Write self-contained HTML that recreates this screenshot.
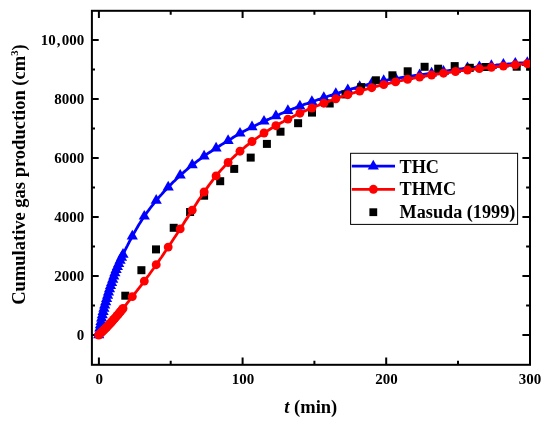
<!DOCTYPE html>
<html><head><meta charset="utf-8"><title>Cumulative gas production</title>
<style>
html,body{margin:0;padding:0;background:#fff;}
body{width:550px;height:422px;overflow:hidden;}
svg{display:block;}
text{font-family:"Liberation Serif","Times New Roman",serif;font-weight:bold;fill:#000;}
</style></head><body>
<svg width="550" height="422" viewBox="0 0 550 422">
<rect width="550" height="422" fill="#fff"/>
<defs><clipPath id="c"><rect x="91.9" y="10.8" width="438.1" height="354.0"/></clipPath></defs>

<g stroke="#000" stroke-width="2.0" fill="none" stroke-linecap="butt">
<rect x="91.9" y="10.8" width="438.1" height="354.0"/>
<path d="M91.9,335.1h6.8M530.0,335.1h-7.6"/>
<path d="M91.9,305.6h3.0999999999999996M530.0,305.6h-3.9"/>
<path d="M91.9,276.1h6.8M530.0,276.1h-7.6"/>
<path d="M91.9,246.6h3.0999999999999996M530.0,246.6h-3.9"/>
<path d="M91.9,217.1h6.8M530.0,217.1h-7.6"/>
<path d="M91.9,187.6h3.0999999999999996M530.0,187.6h-3.9"/>
<path d="M91.9,158.1h6.8M530.0,158.1h-7.6"/>
<path d="M91.9,128.6h3.0999999999999996M530.0,128.6h-3.9"/>
<path d="M91.9,99.1h6.8M530.0,99.1h-7.6"/>
<path d="M91.9,69.6h3.0999999999999996M530.0,69.6h-3.9"/>
<path d="M91.9,40.1h6.8M530.0,40.1h-7.6"/>
<path d="M98.9,364.8v-7.2M98.9,10.8v7.2"/>
<path d="M170.7,364.8v-4.0M170.7,10.8v4.0"/>
<path d="M242.6,364.8v-7.2M242.6,10.8v7.2"/>
<path d="M314.4,364.8v-4.0M314.4,10.8v4.0"/>
<path d="M386.2,364.8v-7.2M386.2,10.8v7.2"/>
<path d="M458.0,364.8v-4.0M458.0,10.8v4.0"/>
</g>
<g clip-path="url(#c)">
<path d="M98.7,335.0 L100.1,326.5 L101.6,318.7 L103.0,312.0 L104.4,306.3 L105.9,301.3 L107.3,296.5 L108.7,291.7 L110.2,287.0 L111.6,282.6 L113.0,278.4 L114.5,274.3 L115.9,270.5 L117.3,266.9 L118.8,263.6 L120.2,260.3 L121.6,257.3 L123.1,254.4 L124.5,251.4 L125.9,248.5 L127.4,245.7 L128.8,242.9 L130.2,240.2 L131.7,237.5 L133.1,234.8 L134.5,232.2 L136.0,229.6 L137.4,227.2 L138.8,224.8 L140.3,222.5 L141.7,220.3 L143.1,218.1 L144.6,215.9 L146.0,213.9 L147.4,211.8 L148.9,209.9 L150.3,208.0 L151.7,206.1 L153.2,204.3 L154.6,202.5 L156.0,200.7 L157.5,199.0 L158.9,197.3 L160.3,195.7 L161.8,194.1 L163.2,192.5 L164.6,190.9 L166.1,189.4 L167.5,187.9 L168.9,186.4 L170.4,184.9 L171.8,183.5 L173.2,182.1 L174.7,180.7 L176.1,179.3 L177.5,177.9 L179.0,176.5 L180.4,175.2 L181.8,173.9 L183.3,172.7 L184.7,171.4 L186.1,170.2 L187.6,168.9 L189.0,167.7 L190.4,166.5 L191.9,165.3 L193.3,164.2 L194.7,163.1 L196.2,162.0 L197.6,160.9 L199.0,159.8 L200.5,158.8 L201.9,157.7 L203.3,156.7 L204.8,155.7 L206.2,154.7 L207.6,153.7 L209.0,152.7 L210.5,151.8 L211.9,150.8 L213.3,149.9 L214.8,149.0 L216.2,148.0 L217.6,147.1 L219.1,146.2 L220.5,145.3 L221.9,144.4 L223.4,143.5 L224.8,142.6 L226.2,141.8 L227.7,140.9 L229.1,140.0 L230.5,139.1 L232.0,138.2 L233.4,137.3 L234.8,136.4 L236.3,135.6 L237.7,134.7 L239.1,133.9 L240.6,133.0 L242.0,132.3 L243.4,131.5 L244.9,130.7 L246.3,130.0 L247.7,129.2 L249.2,128.5 L250.6,127.8 L252.0,127.1 L253.5,126.4 L254.9,125.7 L256.3,125.0 L257.8,124.3 L259.2,123.6 L260.6,122.9 L262.1,122.3 L263.5,121.6 L264.9,121.0 L266.4,120.3 L267.8,119.6 L269.2,119.0 L270.7,118.3 L272.1,117.7 L273.5,117.0 L275.0,116.4 L276.4,115.8 L277.8,115.1 L279.3,114.5 L280.7,113.8 L282.1,113.2 L283.6,112.6 L285.0,112.0 L286.4,111.4 L287.9,110.7 L289.3,110.2 L290.7,109.6 L292.2,109.1 L293.6,108.5 L295.0,108.0 L296.5,107.4 L297.9,106.9 L299.3,106.3 L300.8,105.8 L302.2,105.3 L303.6,104.7 L305.1,104.2 L306.5,103.7 L307.9,103.2 L309.4,102.7 L310.8,102.1 L312.2,101.6 L313.7,101.1 L315.1,100.7 L316.5,100.2 L318.0,99.7 L319.4,99.2 L320.8,98.7 L322.3,98.3 L323.7,97.8 L325.1,97.3 L326.6,96.8 L328.0,96.3 L329.4,95.8 L330.9,95.3 L332.3,94.9 L333.7,94.4 L335.2,93.9 L336.6,93.5 L338.0,93.0 L339.5,92.6 L340.9,92.1 L342.3,91.7 L343.8,91.3 L345.2,90.8 L346.6,90.4 L348.1,90.0 L349.5,89.6 L350.9,89.2 L352.4,88.7 L353.8,88.3 L355.2,87.9 L356.7,87.5 L358.1,87.2 L359.5,86.8 L361.0,86.4 L362.4,86.0 L363.8,85.6 L365.3,85.2 L366.7,84.8 L368.1,84.4 L369.6,84.0 L371.0,83.7 L372.4,83.3 L373.9,82.9 L375.3,82.6 L376.7,82.3 L378.2,81.9 L379.6,81.6 L381.0,81.3 L382.5,80.9 L383.9,80.6 L385.3,80.4 L386.8,80.1 L388.2,79.8 L389.6,79.6 L391.1,79.3 L392.5,79.0 L393.9,78.8 L395.4,78.5 L396.8,78.3 L398.2,78.1 L399.7,77.9 L401.1,77.6 L402.5,77.4 L404.0,77.2 L405.4,77.0 L406.8,76.8 L408.3,76.6 L409.7,76.3 L411.1,76.1 L412.6,75.9 L414.0,75.7 L415.4,75.5 L416.9,75.3 L418.3,75.1 L419.7,74.9 L421.1,74.7 L422.6,74.5 L424.0,74.3 L425.4,74.1 L426.9,73.9 L428.3,73.7 L429.7,73.5 L431.2,73.3 L432.6,73.1 L434.0,72.9 L435.5,72.6 L436.9,72.4 L438.3,72.2 L439.8,72.0 L441.2,71.8 L442.6,71.6 L444.1,71.4 L445.5,71.2 L446.9,70.9 L448.4,70.7 L449.8,70.5 L451.2,70.3 L452.7,70.1 L454.1,69.9 L455.5,69.7 L457.0,69.5 L458.4,69.2 L459.8,69.0 L461.3,68.8 L462.7,68.6 L464.1,68.4 L465.6,68.2 L467.0,68.1 L468.4,67.9 L469.9,67.8 L471.3,67.6 L472.7,67.5 L474.2,67.4 L475.6,67.2 L477.0,67.1 L478.5,67.0 L479.9,66.8 L481.3,66.7 L482.8,66.5 L484.2,66.4 L485.6,66.2 L487.1,66.1 L488.5,65.9 L489.9,65.8 L491.4,65.6 L492.8,65.5 L494.2,65.3 L495.7,65.2 L497.1,65.0 L498.5,64.9 L500.0,64.7 L501.4,64.6 L502.8,64.5 L504.3,64.3 L505.7,64.2 L507.1,64.1 L508.6,63.9 L510.0,63.8 L511.4,63.7 L512.9,63.6 L514.3,63.5 L515.7,63.3 L517.2,63.2 L518.6,63.1 L520.0,63.0 L521.5,63.0 L522.9,62.9 L524.3,62.8 L525.8,62.7 L527.2,62.6" fill="none" stroke="#0000ff" stroke-width="2.8" stroke-linejoin="round"/>
<g fill="#0000ff">
<path d="M98.7,328.5 L104.3,338.2 L93.1,338.2Z"/>
<path d="M99.2,325.2 L104.8,334.9 L93.6,334.9Z"/>
<path d="M99.8,321.9 L105.4,331.6 L94.2,331.6Z"/>
<path d="M100.4,318.5 L106.0,328.2 L94.8,328.2Z"/>
<path d="M101.0,315.2 L106.6,324.9 L95.4,324.9Z"/>
<path d="M101.6,311.9 L107.2,321.6 L96.0,321.6Z"/>
<path d="M102.3,308.6 L107.9,318.3 L96.7,318.3Z"/>
<path d="M103.1,305.3 L108.7,315.0 L97.5,315.0Z"/>
<path d="M103.9,302.0 L109.5,311.7 L98.3,311.7Z"/>
<path d="M104.7,298.8 L110.3,308.5 L99.1,308.5Z"/>
<path d="M105.7,295.5 L111.3,305.2 L100.1,305.2Z"/>
<path d="M106.6,292.3 L112.2,302.0 L101.0,302.0Z"/>
<path d="M107.6,289.0 L113.2,298.7 L102.0,298.7Z"/>
<path d="M108.5,285.8 L114.1,295.5 L102.9,295.5Z"/>
<path d="M109.5,282.6 L115.1,292.3 L103.9,292.3Z"/>
<path d="M110.5,279.4 L116.1,289.1 L104.9,289.1Z"/>
<path d="M111.6,276.2 L117.2,285.9 L106.0,285.9Z"/>
<path d="M112.7,273.0 L118.3,282.7 L107.1,282.7Z"/>
<path d="M113.8,269.8 L119.4,279.5 L108.2,279.5Z"/>
<path d="M114.9,266.6 L120.5,276.3 L109.3,276.3Z"/>
<path d="M116.1,263.4 L121.7,273.1 L110.5,273.1Z"/>
<path d="M117.4,260.3 L123.0,270.0 L111.8,270.0Z"/>
<path d="M118.7,257.2 L124.3,266.9 L113.1,266.9Z"/>
<path d="M120.1,254.1 L125.7,263.8 L114.5,263.8Z"/>
<path d="M121.5,251.1 L127.1,260.8 L115.9,260.8Z"/>
<path d="M123.0,248.0 L128.6,257.7 L117.4,257.7Z"/>
<path d="M132.3,229.8 L137.9,239.5 L126.7,239.5Z"/>
<path d="M144.3,209.9 L149.9,219.6 L138.7,219.6Z"/>
<path d="M156.2,194.0 L161.8,203.7 L150.6,203.7Z"/>
<path d="M168.2,180.7 L173.8,190.4 L162.6,190.4Z"/>
<path d="M180.2,168.9 L185.8,178.6 L174.6,178.6Z"/>
<path d="M192.2,158.6 L197.8,168.3 L186.6,168.3Z"/>
<path d="M204.1,149.7 L209.7,159.4 L198.5,159.4Z"/>
<path d="M216.1,141.7 L221.7,151.4 L210.5,151.4Z"/>
<path d="M228.1,134.2 L233.7,143.9 L222.5,143.9Z"/>
<path d="M240.0,126.9 L245.6,136.6 L234.4,136.6Z"/>
<path d="M252.0,120.6 L257.6,130.3 L246.4,130.3Z"/>
<path d="M264.0,114.9 L269.6,124.6 L258.4,124.6Z"/>
<path d="M275.9,109.5 L281.5,119.2 L270.3,119.2Z"/>
<path d="M287.9,104.3 L293.5,114.0 L282.3,114.0Z"/>
<path d="M299.9,99.7 L305.5,109.4 L294.3,109.4Z"/>
<path d="M311.9,95.3 L317.5,105.0 L306.2,105.0Z"/>
<path d="M323.8,91.3 L329.4,101.0 L318.2,101.0Z"/>
<path d="M335.8,87.3 L341.4,97.0 L330.2,97.0Z"/>
<path d="M347.8,83.6 L353.4,93.3 L342.2,93.3Z"/>
<path d="M359.7,80.3 L365.3,90.0 L354.1,90.0Z"/>
<path d="M371.7,77.0 L377.3,86.7 L366.1,86.7Z"/>
<path d="M383.7,74.2 L389.3,83.9 L378.1,83.9Z"/>
<path d="M395.6,72.0 L401.2,81.7 L390.0,81.7Z"/>
<path d="M407.6,70.2 L413.2,79.9 L402.0,79.9Z"/>
<path d="M419.6,68.5 L425.2,78.2 L414.0,78.2Z"/>
<path d="M431.6,66.8 L437.2,76.5 L425.9,76.5Z"/>
<path d="M443.5,65.0 L449.1,74.7 L437.9,74.7Z"/>
<path d="M455.5,63.2 L461.1,72.9 L449.9,72.9Z"/>
<path d="M467.5,61.5 L473.1,71.2 L461.9,71.2Z"/>
<path d="M479.4,60.4 L485.0,70.1 L473.8,70.1Z"/>
<path d="M491.4,59.2 L497.0,68.9 L485.8,68.9Z"/>
<path d="M503.4,57.9 L509.0,67.6 L497.8,67.6Z"/>
<path d="M515.3,56.9 L520.9,66.6 L509.7,66.6Z"/>
<path d="M527.3,56.2 L532.9,65.9 L521.7,65.9Z"/>
</g>
<g fill="#000">
<rect x="121.3" y="291.7" width="8" height="8"/>
<rect x="137.4" y="266.2" width="8" height="8"/>
<rect x="152.0" y="245.4" width="8" height="8"/>
<rect x="169.7" y="223.8" width="8" height="8"/>
<rect x="186.1" y="208.0" width="8" height="8"/>
<rect x="200.1" y="191.7" width="8" height="8"/>
<rect x="216.2" y="177.2" width="8" height="8"/>
<rect x="230.2" y="164.9" width="8" height="8"/>
<rect x="246.7" y="153.6" width="8" height="8"/>
<rect x="262.9" y="139.9" width="8" height="8"/>
<rect x="276.5" y="127.7" width="8" height="8"/>
<rect x="294.1" y="119.2" width="8" height="8"/>
<rect x="308.0" y="108.6" width="8" height="8"/>
<rect x="325.7" y="99.5" width="8" height="8"/>
<rect x="341.5" y="90.4" width="8" height="8"/>
<rect x="357.2" y="83.1" width="8" height="8"/>
<rect x="371.9" y="76.3" width="8" height="8"/>
<rect x="388.4" y="71.3" width="8" height="8"/>
<rect x="403.7" y="67.3" width="8" height="8"/>
<rect x="420.6" y="62.8" width="8" height="8"/>
<rect x="434.2" y="64.7" width="8" height="8"/>
<rect x="450.7" y="62.1" width="8" height="8"/>
<rect x="465.8" y="63.8" width="8" height="8"/>
<rect x="481.4" y="63.0" width="8" height="8"/>
<rect x="512.7" y="62.7" width="8" height="8"/>
<rect x="526.3" y="62.5" width="8" height="8"/>
</g>
<path d="M98.7,335.0 L100.1,333.7 L101.6,332.3 L103.0,330.9 L104.4,329.5 L105.9,328.0 L107.3,326.5 L108.7,325.0 L110.2,323.4 L111.6,321.9 L113.0,320.3 L114.5,318.6 L115.9,317.0 L117.3,315.3 L118.8,313.6 L120.2,311.9 L121.6,310.2 L123.1,308.4 L124.5,306.6 L125.9,304.8 L127.4,302.9 L128.8,301.1 L130.2,299.2 L131.7,297.4 L133.1,295.6 L134.5,293.8 L136.0,292.0 L137.4,290.2 L138.8,288.3 L140.3,286.5 L141.7,284.6 L143.1,282.7 L144.6,280.8 L146.0,278.8 L147.4,276.9 L148.9,275.0 L150.3,273.0 L151.7,271.0 L153.2,269.0 L154.6,267.0 L156.0,265.0 L157.5,263.0 L158.9,260.9 L160.3,258.8 L161.8,256.7 L163.2,254.6 L164.6,252.4 L166.1,250.3 L167.5,248.1 L168.9,246.0 L170.4,243.8 L171.8,241.7 L173.2,239.5 L174.7,237.3 L176.1,235.2 L177.5,233.0 L179.0,230.8 L180.4,228.6 L181.8,226.3 L183.3,224.1 L184.7,221.8 L186.1,219.6 L187.6,217.4 L189.0,215.1 L190.4,212.9 L191.9,210.7 L193.3,208.5 L194.7,206.2 L196.2,204.0 L197.6,201.8 L199.0,199.6 L200.5,197.5 L201.9,195.3 L203.3,193.2 L204.8,191.1 L206.2,189.1 L207.6,187.1 L209.0,185.1 L210.5,183.2 L211.9,181.3 L213.3,179.4 L214.8,177.5 L216.2,175.7 L217.6,174.0 L219.1,172.3 L220.5,170.7 L221.9,169.1 L223.4,167.5 L224.8,165.9 L226.2,164.4 L227.7,162.9 L229.1,161.4 L230.5,160.0 L232.0,158.6 L233.4,157.2 L234.8,155.9 L236.3,154.5 L237.7,153.2 L239.1,151.9 L240.6,150.7 L242.0,149.5 L243.4,148.3 L244.9,147.1 L246.3,145.9 L247.7,144.8 L249.2,143.7 L250.6,142.6 L252.0,141.5 L253.5,140.4 L254.9,139.3 L256.3,138.3 L257.8,137.3 L259.2,136.3 L260.6,135.3 L262.1,134.3 L263.5,133.3 L264.9,132.4 L266.4,131.5 L267.8,130.6 L269.2,129.7 L270.7,128.8 L272.1,127.9 L273.5,127.1 L275.0,126.2 L276.4,125.4 L277.8,124.6 L279.3,123.8 L280.7,123.0 L282.1,122.2 L283.6,121.4 L285.0,120.6 L286.4,119.9 L287.9,119.1 L289.3,118.4 L290.7,117.7 L292.2,117.0 L293.6,116.2 L295.0,115.5 L296.5,114.9 L297.9,114.2 L299.3,113.5 L300.8,112.8 L302.2,112.2 L303.6,111.5 L305.1,110.9 L306.5,110.3 L307.9,109.6 L309.4,109.0 L310.8,108.4 L312.2,107.8 L313.7,107.2 L315.1,106.6 L316.5,106.0 L318.0,105.5 L319.4,104.9 L320.8,104.3 L322.3,103.8 L323.7,103.2 L325.1,102.7 L326.6,102.1 L328.0,101.6 L329.4,101.1 L330.9,100.5 L332.3,100.0 L333.7,99.5 L335.2,99.0 L336.6,98.5 L338.0,98.0 L339.5,97.5 L340.9,97.0 L342.3,96.5 L343.8,96.0 L345.2,95.6 L346.6,95.1 L348.1,94.6 L349.5,94.2 L350.9,93.7 L352.4,93.3 L353.8,92.8 L355.2,92.4 L356.7,92.0 L358.1,91.5 L359.5,91.1 L361.0,90.7 L362.4,90.3 L363.8,89.9 L365.3,89.5 L366.7,89.1 L368.1,88.7 L369.6,88.3 L371.0,87.9 L372.4,87.5 L373.9,87.1 L375.3,86.7 L376.7,86.4 L378.2,86.0 L379.6,85.6 L381.0,85.3 L382.5,84.9 L383.9,84.6 L385.3,84.2 L386.8,83.9 L388.2,83.6 L389.6,83.2 L391.1,82.9 L392.5,82.6 L393.9,82.2 L395.4,81.9 L396.8,81.6 L398.2,81.3 L399.7,81.0 L401.1,80.7 L402.5,80.4 L404.0,80.1 L405.4,79.8 L406.8,79.5 L408.3,79.2 L409.7,78.9 L411.1,78.7 L412.6,78.4 L414.0,78.1 L415.4,77.8 L416.9,77.6 L418.3,77.3 L419.7,77.1 L421.1,76.8 L422.6,76.5 L424.0,76.3 L425.4,76.0 L426.9,75.8 L428.3,75.6 L429.7,75.3 L431.2,75.1 L432.6,74.9 L434.0,74.6 L435.5,74.4 L436.9,74.2 L438.3,74.0 L439.8,73.7 L441.2,73.5 L442.6,73.3 L444.1,73.1 L445.5,72.9 L446.9,72.7 L448.4,72.5 L449.8,72.3 L451.2,72.1 L452.7,71.9 L454.1,71.7 L455.5,71.5 L457.0,71.3 L458.4,71.1 L459.8,70.9 L461.3,70.7 L462.7,70.6 L464.1,70.4 L465.6,70.2 L467.0,70.0 L468.4,69.9 L469.9,69.7 L471.3,69.5 L472.7,69.4 L474.2,69.2 L475.6,69.0 L477.0,68.9 L478.5,68.7 L479.9,68.5 L481.3,68.4 L482.8,68.2 L484.2,68.1 L485.6,67.9 L487.1,67.8 L488.5,67.6 L489.9,67.5 L491.4,67.3 L492.8,67.2 L494.2,67.0 L495.7,66.9 L497.1,66.7 L498.5,66.6 L500.0,66.5 L501.4,66.3 L502.8,66.2 L504.3,66.0 L505.7,65.8 L507.1,65.7 L508.6,65.5 L510.0,65.4 L511.4,65.2 L512.9,65.1 L514.3,64.9 L515.7,64.8 L517.2,64.6 L518.6,64.5 L520.0,64.3 L521.5,64.2 L522.9,64.1 L524.3,63.9 L525.8,63.8 L527.2,63.6" fill="none" stroke="#ff0000" stroke-width="2.8" stroke-linejoin="round"/>
<g fill="#ff0000">
<circle cx="98.7" cy="335.0" r="4.45"/>
<circle cx="99.9" cy="333.9" r="4.45"/>
<circle cx="101.0" cy="332.8" r="4.45"/>
<circle cx="102.2" cy="331.7" r="4.45"/>
<circle cx="103.3" cy="330.6" r="4.45"/>
<circle cx="104.5" cy="329.4" r="4.45"/>
<circle cx="105.6" cy="328.2" r="4.45"/>
<circle cx="106.8" cy="327.0" r="4.45"/>
<circle cx="108.0" cy="325.8" r="4.45"/>
<circle cx="109.1" cy="324.6" r="4.45"/>
<circle cx="110.3" cy="323.3" r="4.45"/>
<circle cx="111.4" cy="322.0" r="4.45"/>
<circle cx="112.6" cy="320.8" r="4.45"/>
<circle cx="113.7" cy="319.4" r="4.45"/>
<circle cx="114.9" cy="318.1" r="4.45"/>
<circle cx="116.1" cy="316.8" r="4.45"/>
<circle cx="117.2" cy="315.4" r="4.45"/>
<circle cx="118.4" cy="314.1" r="4.45"/>
<circle cx="119.5" cy="312.7" r="4.45"/>
<circle cx="120.7" cy="311.3" r="4.45"/>
<circle cx="121.8" cy="309.9" r="4.45"/>
<circle cx="123.0" cy="308.5" r="4.45"/>
<circle cx="132.3" cy="296.6" r="4.45"/>
<circle cx="144.3" cy="281.1" r="4.45"/>
<circle cx="156.2" cy="264.7" r="4.45"/>
<circle cx="168.2" cy="247.1" r="4.45"/>
<circle cx="180.2" cy="228.9" r="4.45"/>
<circle cx="192.2" cy="210.2" r="4.45"/>
<circle cx="204.1" cy="192.0" r="4.45"/>
<circle cx="216.1" cy="175.9" r="4.45"/>
<circle cx="228.1" cy="162.5" r="4.45"/>
<circle cx="240.0" cy="151.2" r="4.45"/>
<circle cx="252.0" cy="141.5" r="4.45"/>
<circle cx="264.0" cy="133.0" r="4.45"/>
<circle cx="275.9" cy="125.7" r="4.45"/>
<circle cx="287.9" cy="119.1" r="4.45"/>
<circle cx="299.9" cy="113.2" r="4.45"/>
<circle cx="311.9" cy="108.0" r="4.45"/>
<circle cx="323.8" cy="103.2" r="4.45"/>
<circle cx="335.8" cy="98.8" r="4.45"/>
<circle cx="347.8" cy="94.7" r="4.45"/>
<circle cx="359.7" cy="91.0" r="4.45"/>
<circle cx="371.7" cy="87.7" r="4.45"/>
<circle cx="383.7" cy="84.6" r="4.45"/>
<circle cx="395.6" cy="81.9" r="4.45"/>
<circle cx="407.6" cy="79.3" r="4.45"/>
<circle cx="419.6" cy="77.1" r="4.45"/>
<circle cx="431.6" cy="75.0" r="4.45"/>
<circle cx="443.5" cy="73.2" r="4.45"/>
<circle cx="455.5" cy="71.5" r="4.45"/>
<circle cx="467.5" cy="70.0" r="4.45"/>
<circle cx="479.4" cy="68.6" r="4.45"/>
<circle cx="491.4" cy="67.3" r="4.45"/>
<circle cx="503.4" cy="66.1" r="4.45"/>
<circle cx="515.3" cy="64.8" r="4.45"/>
<circle cx="527.3" cy="63.6" r="4.45"/>
</g>
</g>
<g font-size="15px" text-anchor="end">
<text x="84.3" y="340.1">0</text>
<text x="84.3" y="281.1">2000</text>
<text x="84.3" y="222.1">4000</text>
<text x="84.3" y="163.1">6000</text>
<text x="84.3" y="104.1">8000</text>
<text x="84.3" y="45.1">10<tspan dx="1.2">,</tspan><tspan dx="1.2">000</tspan></text>
</g>
<g font-size="15px" text-anchor="middle">
<text x="99.2" y="383.9">0</text>
<text x="242.9" y="383.9">100</text>
<text x="386.5" y="383.9">200</text>
<text x="530.1" y="383.9">300</text>
</g>
<text font-size="18.5px" text-anchor="middle" x="310.8" y="413.2"><tspan font-style="italic">t</tspan> (min)</text>
<text font-size="18.5px" text-anchor="middle" transform="translate(25.2,174.6) rotate(-90)">Cumulative gas production (cm<tspan font-size="10.5px" dy="-7.2">3</tspan><tspan dy="7.2">)</tspan></text>
<rect x="350.6" y="153.3" width="167.0" height="71.1" fill="#fff" stroke="#000" stroke-width="1"/>
<path d="M351.8,166.1H395.0" stroke="#0000ff" stroke-width="2.8"/>
<g fill="#0000ff"><path d="M373.3,159.8 L378.9,169.5 L367.7,169.5Z"/></g>
<path d="M351.8,189.3H395.0" stroke="#ff0000" stroke-width="2.8"/>
<circle cx="373.4" cy="189.3" r="4.45" fill="#ff0000"/>
<rect x="369.4" y="208.3" width="7.8" height="7.8" fill="#000"/>
<g font-size="18.2px">
<text x="399.6" y="172.9">THC</text>
<text x="399.6" y="195.2">THMC</text>
<text x="399.6" y="218.0">Masuda (1999)</text>
</g>
</svg></body></html>
